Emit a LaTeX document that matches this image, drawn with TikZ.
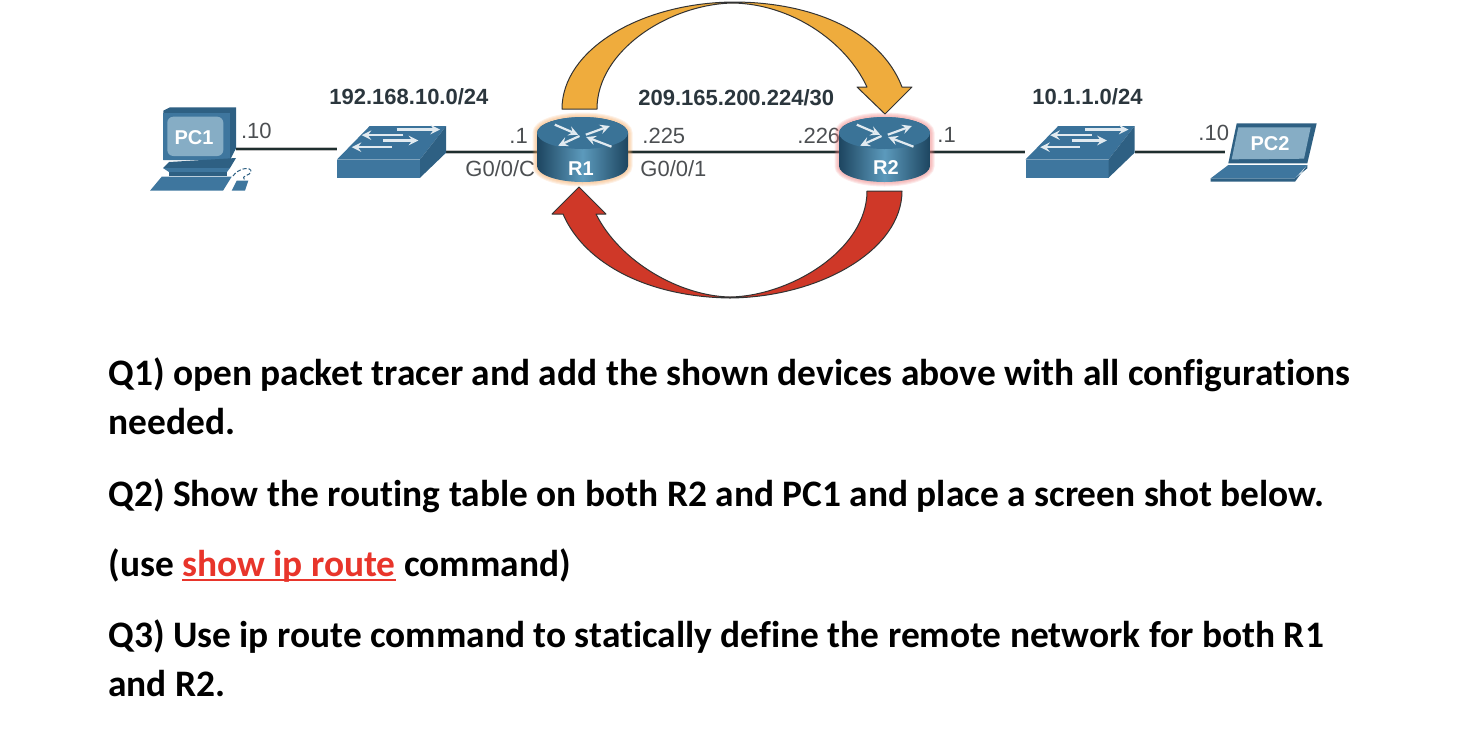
\documentclass[tikz,border=0pt]{standalone}
\usepackage{fontspec}
\setmainfont{Liberation Sans}
\newfontfamily\qfont[Ligatures=NoCommon]{Carlito}
\usetikzlibrary{arrows,positioning}
\definecolor{devfront}{HTML}{3E769E}
\definecolor{devside}{HTML}{2E6083}
\definecolor{devtop}{HTML}{3A729A}
\definecolor{devscreen}{HTML}{86ADC5}
\definecolor{rdark}{HTML}{1D4560}
\definecolor{rlight}{HTML}{5C9ABC}
\definecolor{rtop}{HTML}{3A7397}
\definecolor{linkdark}{HTML}{1E2E2E}
\definecolor{labelgray}{HTML}{4C4F52}
\definecolor{subnetgray}{HTML}{2B363D}
\definecolor{arrowyellow}{HTML}{EFAC3D}
\definecolor{arrowred}{HTML}{CF3828}
\definecolor{glowone}{HTML}{F5A860}
\definecolor{glowtwo}{HTML}{EE7F7F}
\definecolor{cmdred}{HTML}{E8352B}
\newcommand{\cmdunder}[1]{\setbox0\hbox{#1}\rlap{\rule[-2.7pt]{\wd0}{1pt}}#1}
\begin{document}
\begin{tikzpicture}[
    x=0.5pt,
    y=-0.5pt,
    device_box/.style={rectangle, minimum width=#1*0.5pt, minimum height=30pt, inner sep=0pt},
    device_text/.style={text=white, font=\fontsize{10}{12}\selectfont\bfseries, inner sep=0pt},
    addr_label/.style={anchor=base west, text=labelgray, font=\fontsize{11}{13}\selectfont, inner sep=0pt},
    subnet_label/.style={anchor=base west, text=subnetgray, font=\fontsize{11}{13}\selectfont\bfseries, inner sep=0pt},
    question/.style={anchor=base west, align=left, inner sep=0pt, font=\fontsize{18.7}{24.5}\qfont\bfseries},
    net_link/.style={draw=linkdark, line width=1.1pt, preaction={draw=black!25, line width=1.7pt}},
    flow_arrow/.style={draw=black!80, line width=0.5pt, line join=round},
    sw_arrow/.style={draw=white!85!devtop, line width=1.1pt, -stealth},
    pics/switch_icon/.style={code={
        \fill[devfront] (-54.5,7.5) rectangle (28.5,25.8);
        \fill[devtop] (-54.5,7.5) -- (-22,-25.8) -- (54.5,-25.8) -- (28.5,7.5) -- cycle;
        \fill[devside] (28.5,7.5) -- (54.5,-25.8) -- (54.5,0.8) -- (28.5,25.8) -- cycle;
        \draw[sw_arrow] (5,-22.5) -- (48.5,-22.5);
        \draw[sw_arrow] (11.8,-16.8) -- (-29.8,-16.8);
        \draw[sw_arrow] (-8.5,-11.5) -- (26.8,-11.5);
        \draw[sw_arrow] (0,-4.8) -- (-39.8,-4.8);
    }},
    pics/router_icon/.style={code={
        \foreach \w in {9,7,5,3}{
            \draw[#1, line width=\w*0.5pt, opacity=0.16] (-45.5,-19) arc[start angle=180, end angle=360, x radius=45.5, y radius=16] -- (45.5,14) arc[start angle=0, end angle=180, x radius=45.5, y radius=16] -- cycle;
        }
        \shade[left color=rdark, right color=rdark, middle color=rlight] (-45.5,-19) arc[start angle=180, end angle=360, x radius=45.5, y radius=16] -- (45.5,14) arc[start angle=0, end angle=180, x radius=45.5, y radius=16] -- cycle;
        \fill[rtop] (0,-19) ellipse[x radius=45.5, y radius=16];
        \draw[sw_arrow] (-27.7,-27.3) -- (-4.3,-17.3);
        \draw[sw_arrow] (3.3,-17.3) -- (27.3,-26);
        \draw[sw_arrow] (-3,-16) -- (-24.3,-6.3);
        \draw[sw_arrow] (29,-5.3) -- (3.7,-15);
    }}
]
\useasboundingbox (0,0) rectangle (1478,730);

% Devices
\node[device_box=86] (pc1) at (193,149) {};
\node[device_box=109] (sw1) at (391.5,152) {};
\node[device_box=91] (r1) at (582.5,152) {};
\node[device_box=91] (r2) at (884.5,152) {};
\node[device_box=109] (sw2) at (1080,152) {};
\node[device_box=92] (pc2) at (1271,152) {};

% Links
\draw[net_link] (pc1.east) -- (sw1.west |- pc1.east);
\draw[net_link] (sw1.east) -- (r1.west);
\draw[net_link] (r1.east) -- (r2.west);
\draw[net_link] (r2.east) -- (sw2.west);
\draw[net_link] (sw2.east) -- (pc2.west);

% Addresses
\node[subnet_label] (net1) at (329,104) {192.168.10.0/24};
\node[subnet_label] (net2) at (638,105) {209.165.200.224/30};
\node[subnet_label] (net3) at (1032,104) {10.1.1.0/24};
\node[addr_label] (pc1_addr) at (240.7,138) {.10};
\node[addr_label] (r1_addr1) at (509,143) {.1};
\node[addr_label] (r1_port1) at (465,176) {G0/0/C};
\node[addr_label] (r1_addr2) at (642,143) {.225};
\node[addr_label] (r1_port2) at (640,176) {G0/0/1};
\node[addr_label] (r2_addr1) at (797,143) {.226};
\node[addr_label] (r2_addr2) at (937,142) {.1};
\node[addr_label] (pc2_addr) at (1198,140) {.10};

% PC1 drawing
\fill[devside] (163.3,110.7) -- (170,107.3) -- (236,107.3) -- (236,148.3) -- (230,160) -- (163.3,160) -- cycle;
\fill[devfront] (163.3,113) rectangle (230,160);
\fill[devscreen, rounded corners=3pt] (167.3,116.7) rectangle (223.3,156);
\fill[devside] (169,162) -- (236,158) -- (230,168) -- (163,168) -- cycle;
\fill[devfront] (163,168) -- (230,168) -- (227,172) -- (169,172) -- cycle;
\fill[devside] (169,172) rectangle (227,176);
\fill[devfront] (150,190.7) -- (161.7,176.7) -- (231.7,176.7) -- (223,190.7) -- cycle;
\fill[devfront] (231.7,190.7) -- (236.7,180.7) -- (248.3,180.7) -- (245,190.7) -- cycle;
\draw[devside, line width=0.5pt, dash pattern=on 2pt off 1pt] (233,176) .. controls (238,168) and (252,166) .. (251,172) .. controls (250,176) and (240,175) .. (245,180);

% PC2 drawing
\fill[devside] (1228.3,163.3) -- (1236.7,123.3) -- (1316.7,123.3) -- (1307.3,163.3) -- cycle;
\fill[devscreen] (1238.3,127.3) -- (1310.7,127.3) -- (1304,158.7) -- (1231.7,159.3) -- cycle;
\fill[devside] (1210.7,178.3) -- (1295,178.3) -- (1307.3,168.3) -- (1307.3,165) -- (1295,181.7) -- (1210.7,181.7) -- cycle;
\fill[devfront] (1228.3,165) -- (1307.3,165) -- (1295,178.3) -- (1210.7,178.3) -- cycle;

% Switches and routers
\pic at (sw1) {switch_icon};
\pic at (sw2) {switch_icon};
\pic at (r1) {router_icon=glowone};
\pic at (r2) {router_icon=glowtwo};

\node[device_text] (pc1_name) at (194,137.7) {PC1};
\node[device_text] (pc2_name) at (1270,144) {PC2};
\node[device_text] (r1_name) at (581,169) {R1};
\node[device_text] (r2_name) at (886,167.7) {R2};

% Flow arrows
\draw[flow_arrow, fill=arrowyellow] (562,109) .. controls (562,50) and (640,3) .. (733,2) .. controls (810,2) and (880,30) .. (902,87) -- (912,87) -- (885,114) -- (857,87) -- (867,87) .. controls (845,40) and (790,4) .. (733,3) .. controls (670,4) and (597,50) .. (597,109) -- cycle;
\draw[flow_arrow, fill=arrowred] (902,191) .. controls (902,250) and (820,297) .. (730,298) .. controls (650,297) and (585,265) .. (563,214) -- (552,214) -- (579,187) -- (606,214) -- (596,214) .. controls (620,262) and (680,296) .. (730,297) .. controls (790,296) and (867,250) .. (867,191) -- cycle;

% Questions
\node[question] (q1) at (108,434.5) {Q1) open packet tracer and add the shown devices above with all configurations\\needed.};
\node[question] (q2) at (108,506) {Q2) Show the routing table on both R2 and PC1 and place a screen shot below.};
\node[question] (q2b) at (108,576) {(use {\color{cmdred}\cmdunder{show ip route}} command)};
\node[question] (q3) at (108,696) {Q3) Use ip route command to statically define the remote network for both R1\\and R2.};

\end{tikzpicture}
\end{document}
